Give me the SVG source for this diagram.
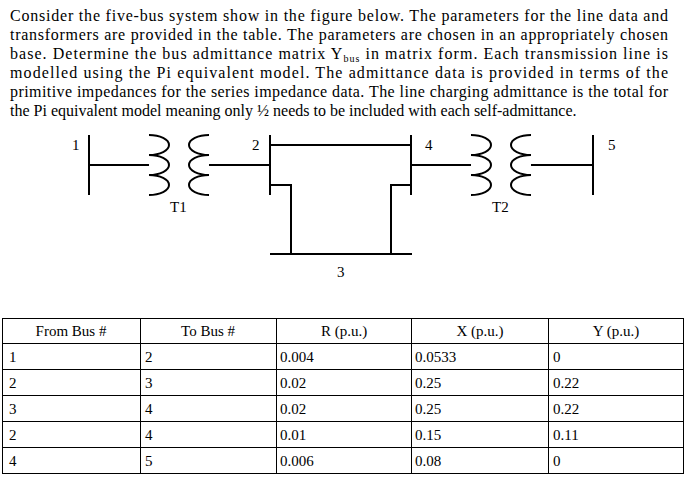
<svg xmlns="http://www.w3.org/2000/svg" width="687" height="495" viewBox="0 0 687 495">
<style>
text{font-family:"Liberation Serif","Times New Roman",serif;font-size:15px;fill:#000}
.p{font-size:16px}
.w{stroke:#000;stroke-width:2;fill:none}
.t{stroke:#000;stroke-width:1;fill:none}
.c{font-size:15px}
</style>
<rect width="687" height="495" fill="#fff"/>
<g id="paragraph">
<text class="p" x="10" y="21" textLength="658" lengthAdjust="spacing">Consider the five-bus system show in the figure below.  The parameters for the line data and</text>
<text class="p" x="10" y="40" textLength="658" lengthAdjust="spacing">transformers are provided in the table.  The parameters are chosen in an appropriately chosen</text>
<text class="p" x="10" y="59" textLength="658" lengthAdjust="spacing">base.  Determine the bus admittance matrix Y<tspan font-size="10" dy="3">bus</tspan><tspan dy="-3"> in matrix form.  Each transmission line is</tspan></text>
<text class="p" x="10" y="78" textLength="658" lengthAdjust="spacing">modelled using the Pi equivalent model.  The admittance data is provided in terms of the</text>
<text class="p" x="10" y="97" textLength="658" lengthAdjust="spacing">primitive impedances for the series impedance data.  The line charging admittance is the total for</text>
<text class="p" x="10" y="116">the Pi equivalent model meaning only ½ needs to be included with each self-admittance.</text>
</g>
<g id="bus1"><line class="w" x1="89" y1="135" x2="89" y2="195"/><text x="72" y="150">1</text></g>
<g id="T1">
<path class="w" d="M149,135 a20,10 0 0 1 0,20 a20,10 0 0 1 0,20 a20,10 0 0 1 0,20"/>
<path class="w" d="M209,135 a20,10 0 0 0 0,20 a20,10 0 0 0 0,20 a20,10 0 0 0 0,20"/>
<text x="170" y="212">T1</text></g>
<g id="bus2"><line class="w" x1="270" y1="135" x2="270" y2="195"/><text x="252" y="150">2</text></g>
<g id="bus4"><line class="w" x1="411" y1="135" x2="411" y2="195"/><text x="425" y="150">4</text></g>
<g id="T2">
<path class="w" d="M471,135 a20,10 0 0 1 0,20 a20,10 0 0 1 0,20 a20,10 0 0 1 0,20"/>
<path class="w" d="M531,135 a20,10 0 0 0 0,20 a20,10 0 0 0 0,20 a20,10 0 0 0 0,20"/>
<text x="492" y="212">T2</text></g>
<g id="bus5"><line class="w" x1="593" y1="135" x2="593" y2="195"/><text x="608" y="150">5</text></g>
<g id="bus3"><line class="w" x1="270" y1="254" x2="412" y2="254"/><text x="337" y="277">3</text></g>
<g id="connectors">
<line class="w" x1="89" y1="165" x2="149" y2="165"/>
<line class="w" x1="209" y1="165" x2="270" y2="165"/>
<line class="w" x1="270" y1="145" x2="411" y2="145"/>
<line class="w" x1="411" y1="165" x2="471" y2="165"/>
<line class="w" x1="531" y1="165" x2="593" y2="165"/>
<polyline class="w" points="270,185 291,185 291,254"/>
<polyline class="w" points="411,185 391,185 391,254"/>
</g>
<g id="table">
<rect class="t" x="2.5" y="318.5" width="681" height="155"/>
<g class="t">
<line x1="140.5" y1="318" x2="140.5" y2="474"/>
<line x1="276.5" y1="318" x2="276.5" y2="474"/>
<line x1="411.5" y1="318" x2="411.5" y2="474"/>
<line x1="548.5" y1="318" x2="548.5" y2="474"/>
<line x1="2" y1="343.5" x2="684" y2="343.5"/>
<line x1="2" y1="369.5" x2="684" y2="369.5"/>
<line x1="2" y1="395.5" x2="684" y2="395.5"/>
<line x1="2" y1="421.5" x2="684" y2="421.5"/>
<line x1="2" y1="447.5" x2="684" y2="447.5"/>
</g>
<text class="c" x="71" y="336" text-anchor="middle">From Bus #</text>
<text class="c" x="208" y="336" text-anchor="middle">To Bus #</text>
<text class="c" x="344" y="336" text-anchor="middle">R (p.u.)</text>
<text class="c" x="480" y="336" text-anchor="middle">X (p.u.)</text>
<text class="c" x="616" y="336" text-anchor="middle">Y (p.u.)</text>
<text class="c" x="9" y="362">1</text><text class="c" x="145" y="362">2</text><text class="c" x="280" y="362">0.004</text><text class="c" x="415" y="362">0.0533</text><text class="c" x="553" y="362">0</text>
<text class="c" x="9" y="388">2</text><text class="c" x="145" y="388">3</text><text class="c" x="280" y="388">0.02</text><text class="c" x="415" y="388">0.25</text><text class="c" x="553" y="388">0.22</text>
<text class="c" x="9" y="414">3</text><text class="c" x="145" y="414">4</text><text class="c" x="280" y="414">0.02</text><text class="c" x="415" y="414">0.25</text><text class="c" x="553" y="414">0.22</text>
<text class="c" x="9" y="440">2</text><text class="c" x="145" y="440">4</text><text class="c" x="280" y="440">0.01</text><text class="c" x="415" y="440">0.15</text><text class="c" x="553" y="440">0.11</text>
<text class="c" x="9" y="466">4</text><text class="c" x="145" y="466">5</text><text class="c" x="280" y="466">0.006</text><text class="c" x="415" y="466">0.08</text><text class="c" x="553" y="466">0</text>
</g>
</svg>
